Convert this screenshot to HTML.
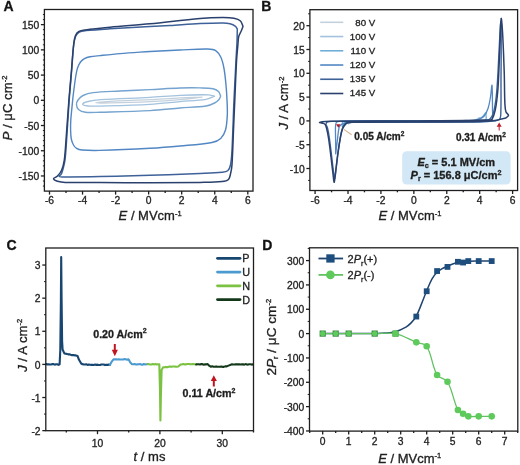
<!DOCTYPE html>
<html><head><meta charset="utf-8"><title>Figure</title>
<style>html,body{margin:0;padding:0;background:#fff;}svg{display:block;}text{font-family:'Liberation Sans', Arial, sans-serif;stroke:#222;stroke-width:.32px;}</style>
</head><body>
<svg width="520" height="465" viewBox="0 0 520 465">
<rect width="520" height="465" fill="#fff"/>
<g>
<path d="M202,97.2 C194.67,97.4 187.33,97.45 180,97.8 C169.99,98.28 160.01,99.19 150,99.7 C136.67,100.39 123.32,100.64 110,101.4 C105.12,101.68 95.4,102.55 95.4,102.8 C95.4,103.05 105.14,103.01 110,102.9 C123.34,102.61 136.68,102.23 150,101.6 C160.01,101.13 170.02,100.44 180,99.6 C187.35,98.98 194.67,98 202,97.2" fill="none" stroke="#c4d1dd" stroke-width="1.3" stroke-linejoin="round" stroke-linecap="round" />
<path d="M214.6,96.1 C212.57,95.67 210.57,94.85 208.5,94.8 C199.04,94.58 189.49,94.88 180,95.3 C169.99,95.74 160.01,96.86 150,97.4 C133.61,98.29 117.17,98.52 100.8,99.6 C96.5,99.88 92.13,100.43 88,101.5 C86.06,102 82.6,103.52 82.6,104.3 C82.6,105.02 86.14,105.81 88,106 C91.94,106.41 96,106.2 100,106.1 C116.67,105.67 133.36,105.34 150,104.4 C160.02,103.84 170,102.51 180,101.6 C188.66,100.81 197.47,100.66 206,99.3 C209,98.82 211.73,97.17 214.6,96.1" fill="none" stroke="#a2c2de" stroke-width="1.3" stroke-linejoin="round" stroke-linecap="round" />
<path d="M220.7,96 C219.97,94.5 219.65,92.59 218.5,91.5 C217.08,90.16 214.98,89.09 213,88.7 C208.82,87.89 204.34,87.99 200,87.9 C193.34,87.76 186.66,87.77 180,88 C169.99,88.34 160,89.1 150,89.6 C140,90.1 130,90.47 120,91 C111,91.47 101.91,91.52 93,92.6 C89.57,93.02 86.04,94 83,95.5 C81.04,96.47 79.26,98.24 78,100 C77.09,101.27 76.42,103.09 76.5,104.6 C76.59,106.25 77.27,108.43 78.5,109.5 C80.23,111 82.98,112 85.4,112.3 C90.15,112.9 95.14,112.33 100,112.2 C116.67,111.76 133.35,111.47 150,110.6 C160.02,110.07 170,108.82 180,108 C188.66,107.29 197.45,107.24 206,106 C208.99,105.57 211.92,104.34 214.6,103 C216.25,102.17 217.8,100.88 219,99.5 C219.83,98.55 220.13,97.17 220.7,96" fill="none" stroke="#74a3cf" stroke-width="1.4" stroke-linejoin="round" stroke-linecap="round" />
<path d="M150,51.5 C160,51 170,50.43 180,50 C189.23,49.6 198.51,48.8 207.7,49 C210.51,49.06 213.77,49.37 216,50.8 C218.2,52.21 219.87,55 221,57.5 C222.54,60.9 223.32,64.77 224,68.5 C224.99,73.94 225.47,79.49 226,85 C226.47,89.99 226.78,94.99 227,100 C227.22,104.99 227.55,110.02 227.3,115 C227.05,120.02 226.84,125.25 225.5,130 C224.64,133.05 222.96,136.31 220.7,138.4 C218.46,140.48 215.12,141.92 212,142.5 C201.55,144.45 190.68,145 180,146 C170.02,146.93 160.01,147.75 150,148.3 C133.35,149.22 116.67,149.98 100,150.4 C94,150.55 87.94,150.51 82,150 C80.14,149.84 78.16,149.32 76.6,148.4 C75.33,147.65 74.24,146.31 73.5,145 C72.47,143.18 71.7,141.07 71.3,139 C70.73,136.07 70.68,133 70.6,130 C70.51,126.67 70.61,123.33 70.8,120 C71.01,116.33 71.45,112.67 71.8,109 C72.18,105 72.55,100.99 73,97 C73.45,92.99 73.97,89 74.5,85 C74.9,82 75.27,78.98 75.8,76 C76.27,73.32 76.64,70.56 77.5,68 C78.21,65.9 79.19,63.76 80.5,62 C81.52,60.62 82.99,59.42 84.5,58.6 C86.16,57.69 88.11,57.16 90,56.8 C93.28,56.16 96.66,55.96 100,55.6 C106.66,54.89 113.32,54.15 120,53.6 C129.99,52.78 140,52.2 150,51.5" fill="none" stroke="#5287c4" stroke-width="1.4" stroke-linejoin="round" stroke-linecap="round" />
<path d="M237.3,29 C236.7,28.1 236.35,26.91 235.5,26.3 C233.92,25.17 231.92,24.31 230,23.8 C227.76,23.21 225.34,23.02 223,23 C215.34,22.95 207.66,23.24 200,23.6 C189.99,24.07 180,24.9 170,25.5 C163.34,25.9 156.67,26.23 150,26.6 C136.67,27.33 123.33,27.97 110,28.8 C101.99,29.3 93.97,29.77 86,30.6 C83.73,30.84 81.19,30.96 79.3,32 C77.75,32.86 76.42,34.63 75.7,36.3 C74.55,38.96 74.05,42.05 73.7,45 C72.72,53.28 72.38,61.67 71.7,70 C70.88,80 69.93,89.99 69.2,100 C68.23,113.33 67.53,126.67 66.6,140 C66.13,146.67 65.82,153.38 65,160 C64.62,163.04 63.79,166.04 63,169 C62.53,170.77 62.06,172.63 61.2,174.2 C60.73,175.07 58.87,175.85 59,176.3 C59.13,176.75 60.98,176.89 62,176.9 C74.65,176.99 87.34,176.83 100,176.6 C116.67,176.3 133.34,175.83 150,175.3 C166.67,174.77 183.34,174.12 200,173.4 C207.34,173.08 214.72,172.91 222,172.2 C223.95,172.01 226.34,171.86 227.7,170.7 C229.17,169.46 230.08,167.05 230.5,165 C231.51,160.15 231.73,155.02 232,150 C232.9,133.35 233.26,116.66 234,100 C234.59,86.66 235.31,73.33 236,60 C236.31,54 236.75,48 237,42 C237.18,37.67 237.2,33.33 237.3,29" fill="none" stroke="#3d6198" stroke-width="1.5" stroke-linejoin="round" stroke-linecap="round" />
<path d="M243,26.5 C242.17,24.67 241.89,22.26 240.5,21 C238.89,19.53 236.27,18.75 234,18.3 C230.44,17.59 226.67,17.49 223,17.5 C215.34,17.52 207.64,17.75 200,18.4 C183.31,19.82 166.68,22.07 150,23.7 C136.68,25 123.32,25.92 110,27.2 C101.79,27.99 93.56,28.79 85.4,29.9 C83.23,30.19 80.81,30.37 79,31.4 C77.51,32.24 76.14,33.88 75.5,35.5 C74.34,38.41 73.97,41.8 73.6,45 C72.64,53.3 72.21,61.67 71.5,70 C70.65,80 69.69,89.99 68.9,100 C67.85,113.33 67.03,126.67 66,140 C65.47,146.87 65.2,153.81 64.2,160.6 C63.7,163.97 62.84,167.41 61.5,170.5 C60.61,172.55 59.05,174.39 57.5,176 C56.39,177.16 53.5,177.91 53.5,178.8 C53.5,179.65 56.04,180.75 57.5,181.2 C59.94,181.95 62.61,182.31 65.2,182.4 C76.77,182.78 88.4,182.55 100,182.6 C116.67,182.68 133.33,182.83 150,182.8 C166.67,182.77 183.34,182.68 200,182.4 C207.34,182.28 214.75,182.34 222,181.6 C224.25,181.37 227.05,180.93 228.5,179.5 C229.95,178.06 230.18,175.22 230.7,173 C231.35,170.25 231.82,167.42 232,164.6 C232.75,153.09 233,141.53 233.5,130 C233.93,120 234.36,110 234.8,100 C235.39,86.67 235.85,73.32 236.6,60 C236.88,54.99 237.45,50 237.9,45 C238.15,42.17 238.07,39.24 238.7,36.5 C239.11,34.74 240.28,33.18 241,31.5 C241.71,29.85 242.33,28.17 243,26.5" fill="none" stroke="#2a416e" stroke-width="1.5" stroke-linejoin="round" stroke-linecap="round" />
<rect x="44.4" y="9.5" width="208.6" height="181.6" fill="none" stroke="#1e1e1e" stroke-width="1.3"/>
<line x1="49.5" y1="191.1" x2="49.5" y2="194.6" stroke="#1e1e1e" stroke-width="1.3"/>
<line x1="82.55" y1="191.1" x2="82.55" y2="194.6" stroke="#1e1e1e" stroke-width="1.3"/>
<line x1="115.6" y1="191.1" x2="115.6" y2="194.6" stroke="#1e1e1e" stroke-width="1.3"/>
<line x1="148.65" y1="191.1" x2="148.65" y2="194.6" stroke="#1e1e1e" stroke-width="1.3"/>
<line x1="181.7" y1="191.1" x2="181.7" y2="194.6" stroke="#1e1e1e" stroke-width="1.3"/>
<line x1="214.75" y1="191.1" x2="214.75" y2="194.6" stroke="#1e1e1e" stroke-width="1.3"/>
<line x1="247.8" y1="191.1" x2="247.8" y2="194.6" stroke="#1e1e1e" stroke-width="1.3"/>
<line x1="66.03" y1="191.1" x2="66.03" y2="192.9" stroke="#1e1e1e" stroke-width="1.3"/>
<line x1="99.08" y1="191.1" x2="99.08" y2="192.9" stroke="#1e1e1e" stroke-width="1.3"/>
<line x1="132.12" y1="191.1" x2="132.12" y2="192.9" stroke="#1e1e1e" stroke-width="1.3"/>
<line x1="165.18" y1="191.1" x2="165.18" y2="192.9" stroke="#1e1e1e" stroke-width="1.3"/>
<line x1="198.22" y1="191.1" x2="198.22" y2="192.9" stroke="#1e1e1e" stroke-width="1.3"/>
<line x1="231.28" y1="191.1" x2="231.28" y2="192.9" stroke="#1e1e1e" stroke-width="1.3"/>
<line x1="40.9" y1="175.96" x2="44.4" y2="175.96" stroke="#1e1e1e" stroke-width="1.3"/>
<line x1="40.9" y1="150.74" x2="44.4" y2="150.74" stroke="#1e1e1e" stroke-width="1.3"/>
<line x1="40.9" y1="125.52" x2="44.4" y2="125.52" stroke="#1e1e1e" stroke-width="1.3"/>
<line x1="40.9" y1="100.3" x2="44.4" y2="100.3" stroke="#1e1e1e" stroke-width="1.3"/>
<line x1="40.9" y1="75.08" x2="44.4" y2="75.08" stroke="#1e1e1e" stroke-width="1.3"/>
<line x1="40.9" y1="49.86" x2="44.4" y2="49.86" stroke="#1e1e1e" stroke-width="1.3"/>
<line x1="40.9" y1="24.64" x2="44.4" y2="24.64" stroke="#1e1e1e" stroke-width="1.3"/>
<line x1="42.9" y1="186.05" x2="44.4" y2="186.05" stroke="#1e1e1e" stroke-width="1"/>
<line x1="42.9" y1="181" x2="44.4" y2="181" stroke="#1e1e1e" stroke-width="1"/>
<line x1="42.9" y1="170.92" x2="44.4" y2="170.92" stroke="#1e1e1e" stroke-width="1"/>
<line x1="42.9" y1="165.87" x2="44.4" y2="165.87" stroke="#1e1e1e" stroke-width="1"/>
<line x1="42.9" y1="160.83" x2="44.4" y2="160.83" stroke="#1e1e1e" stroke-width="1"/>
<line x1="42.9" y1="155.78" x2="44.4" y2="155.78" stroke="#1e1e1e" stroke-width="1"/>
<line x1="42.9" y1="145.7" x2="44.4" y2="145.7" stroke="#1e1e1e" stroke-width="1"/>
<line x1="42.9" y1="140.65" x2="44.4" y2="140.65" stroke="#1e1e1e" stroke-width="1"/>
<line x1="42.9" y1="135.61" x2="44.4" y2="135.61" stroke="#1e1e1e" stroke-width="1"/>
<line x1="42.9" y1="130.56" x2="44.4" y2="130.56" stroke="#1e1e1e" stroke-width="1"/>
<line x1="42.9" y1="120.48" x2="44.4" y2="120.48" stroke="#1e1e1e" stroke-width="1"/>
<line x1="42.9" y1="115.43" x2="44.4" y2="115.43" stroke="#1e1e1e" stroke-width="1"/>
<line x1="42.9" y1="110.39" x2="44.4" y2="110.39" stroke="#1e1e1e" stroke-width="1"/>
<line x1="42.9" y1="105.34" x2="44.4" y2="105.34" stroke="#1e1e1e" stroke-width="1"/>
<line x1="42.9" y1="95.26" x2="44.4" y2="95.26" stroke="#1e1e1e" stroke-width="1"/>
<line x1="42.9" y1="90.21" x2="44.4" y2="90.21" stroke="#1e1e1e" stroke-width="1"/>
<line x1="42.9" y1="85.17" x2="44.4" y2="85.17" stroke="#1e1e1e" stroke-width="1"/>
<line x1="42.9" y1="80.12" x2="44.4" y2="80.12" stroke="#1e1e1e" stroke-width="1"/>
<line x1="42.9" y1="70.04" x2="44.4" y2="70.04" stroke="#1e1e1e" stroke-width="1"/>
<line x1="42.9" y1="64.99" x2="44.4" y2="64.99" stroke="#1e1e1e" stroke-width="1"/>
<line x1="42.9" y1="59.95" x2="44.4" y2="59.95" stroke="#1e1e1e" stroke-width="1"/>
<line x1="42.9" y1="54.9" x2="44.4" y2="54.9" stroke="#1e1e1e" stroke-width="1"/>
<line x1="42.9" y1="44.82" x2="44.4" y2="44.82" stroke="#1e1e1e" stroke-width="1"/>
<line x1="42.9" y1="39.77" x2="44.4" y2="39.77" stroke="#1e1e1e" stroke-width="1"/>
<line x1="42.9" y1="34.73" x2="44.4" y2="34.73" stroke="#1e1e1e" stroke-width="1"/>
<line x1="42.9" y1="29.68" x2="44.4" y2="29.68" stroke="#1e1e1e" stroke-width="1"/>
<line x1="42.9" y1="19.6" x2="44.4" y2="19.6" stroke="#1e1e1e" stroke-width="1"/>
<line x1="42.9" y1="14.55" x2="44.4" y2="14.55" stroke="#1e1e1e" stroke-width="1"/>
<text x="49.5" y="203.8" font-size="10.3" text-anchor="middle" font-weight="normal" font-style="normal" fill="#1e1e1e" >-6</text>
<text x="82.55" y="203.8" font-size="10.3" text-anchor="middle" font-weight="normal" font-style="normal" fill="#1e1e1e" >-4</text>
<text x="115.6" y="203.8" font-size="10.3" text-anchor="middle" font-weight="normal" font-style="normal" fill="#1e1e1e" >-2</text>
<text x="148.65" y="203.8" font-size="10.3" text-anchor="middle" font-weight="normal" font-style="normal" fill="#1e1e1e" >0</text>
<text x="181.7" y="203.8" font-size="10.3" text-anchor="middle" font-weight="normal" font-style="normal" fill="#1e1e1e" >2</text>
<text x="214.75" y="203.8" font-size="10.3" text-anchor="middle" font-weight="normal" font-style="normal" fill="#1e1e1e" >4</text>
<text x="247.8" y="203.8" font-size="10.3" text-anchor="middle" font-weight="normal" font-style="normal" fill="#1e1e1e" >6</text>
<text x="39.2" y="180.06" font-size="10.3" text-anchor="end" font-weight="normal" font-style="normal" fill="#1e1e1e" >-150</text>
<text x="39.2" y="154.84" font-size="10.3" text-anchor="end" font-weight="normal" font-style="normal" fill="#1e1e1e" >-100</text>
<text x="39.2" y="129.62" font-size="10.3" text-anchor="end" font-weight="normal" font-style="normal" fill="#1e1e1e" >-50</text>
<text x="39.2" y="104.4" font-size="10.3" text-anchor="end" font-weight="normal" font-style="normal" fill="#1e1e1e" >0</text>
<text x="39.2" y="79.18" font-size="10.3" text-anchor="end" font-weight="normal" font-style="normal" fill="#1e1e1e" >50</text>
<text x="39.2" y="53.96" font-size="10.3" text-anchor="end" font-weight="normal" font-style="normal" fill="#1e1e1e" >100</text>
<text x="39.2" y="28.74" font-size="10.3" text-anchor="end" font-weight="normal" font-style="normal" fill="#1e1e1e" >150</text>
<text x="3.6" y="11.3" font-size="14" text-anchor="start" font-weight="bold" font-style="normal" fill="#111" >A</text>
<text x="118.6" y="220.3" font-size="13" fill="#1e1e1e"><tspan font-style="italic">E</tspan> / MVcm<tspan font-size="7.5" dy="-4.5">-1</tspan></text>
<text transform="translate(11.8,140.5) rotate(-90)" font-size="13.2" fill="#1e1e1e"><tspan font-style="italic">P</tspan> / μC cm<tspan font-size="7.5" dy="-4.5">-2</tspan></text>
</g>
<g>
<path d="M361.9,122.4 C361.9,122.1 361.65,121.57 361.9,121.5 C363.02,121.17 364.63,121.21 366,121.2 C384,121.05 402,121.07 420,121 C434,120.94 448.02,121.07 462,120.8 C463.52,120.77 465.22,120.04 466.5,120.1 C466.75,120.11 466.84,120.92 466.6,121 C465.34,121.42 463.54,121.57 462,121.6 C448.01,121.87 434,121.83 420,121.9 C402,121.99 384,121.95 366,122.1 C364.63,122.11 363.27,122.3 361.9,122.4" fill="none" stroke="#c4d1dd" stroke-width="1.3" stroke-linejoin="round" stroke-linecap="round" />
<path d="M348.8,123.8 C348.83,123.07 348.46,121.96 348.9,121.6 C349.53,121.09 350.96,121.21 352,121.2 C374.66,121.01 397.33,121.1 420,121 C436.67,120.93 453.35,121.03 470,120.7 C472.02,120.66 474.12,120.51 476,119.9 C477.32,119.47 478.81,117.54 479.6,117.6 C480.08,117.64 480.09,119.5 479.8,120.2 C479.55,120.8 478.71,121.39 478,121.5 C475.44,121.89 472.67,121.68 470,121.7 C453.33,121.81 436.67,121.84 420,121.9 C398.67,121.97 377.33,121.91 356,122.1 C354.33,122.11 352.59,122.12 351,122.5 C350.19,122.69 349.53,123.37 348.8,123.8" fill="none" stroke="#a2c2de" stroke-width="1.3" stroke-linejoin="round" stroke-linecap="round" />
<path d="M342.3,126.5 C342.27,125.4 341.96,124.21 342.2,123.2 C342.36,122.54 342.86,121.67 343.5,121.5 C345.46,120.97 347.83,121.12 350,121.1 C373.33,120.92 396.67,121 420,120.9 C437.33,120.83 454.69,120.99 472,120.6 C474.02,120.55 476.13,120.28 478,119.6 C479.63,119.01 481.21,117.97 482.5,116.8 C483.81,115.6 485.05,112.78 485.8,112.5 C486.22,112.35 485.97,114.5 486,115.5 C486.04,116.8 486.52,118.38 486,119.4 C485.52,120.34 484.16,121.23 483,121.4 C478.82,122 474.33,121.67 470,121.7 C453.33,121.83 436.67,121.83 420,121.9 C398.33,121.99 376.67,122.02 355,122.2 C352.33,122.22 349.62,122.17 347,122.5 C345.95,122.63 344.76,122.95 344,123.6 C343.2,124.28 342.87,125.53 342.3,126.5" fill="none" stroke="#6eaed8" stroke-width="1.3" stroke-linejoin="round" stroke-linecap="round" />
<path d="M335.7,153.8 C335.67,149.2 335.62,144.6 335.6,140 C335.58,135 335.22,129.92 335.6,125 C335.69,123.85 336.05,122.18 337,121.8 C339.18,120.92 342.33,121.23 345,121.2 C369.99,120.93 395,121.02 420,120.9 C438,120.82 456.05,121.06 474,120.6 C475.52,120.56 477.02,120.01 478.4,119.4 C480.35,118.54 482.64,117.75 484,116.2 C485.84,114.12 487.08,111.22 488,108.5 C489.25,104.82 489.85,100.86 490.5,97 C491.15,93.1 491.52,86.26 491.9,85.2 C492.12,84.59 492.25,89.73 492.3,92 C492.45,98 492.48,104 492.5,110 C492.51,113.07 493.02,116.4 492.4,119.2 C492.19,120.17 491.03,121.19 490,121.3 C483.56,122.02 476.67,121.64 470,121.7 C453.33,121.84 436.67,121.83 420,121.9 C397.33,122 374.66,121.93 352,122.2 C349.66,122.23 347.25,122.31 345,122.8 C343.75,123.07 342.53,123.75 341.5,124.5 C340.6,125.15 339.48,125.94 339.2,127 C338.11,131.1 337.97,135.66 337.4,140 C336.8,144.6 336.27,149.2 335.7,153.8" fill="none" stroke="#5287c4" stroke-width="1.3" stroke-linejoin="round" stroke-linecap="round" />
<path d="M325.9,124.5 C326.27,123.73 326.32,122.55 327,122.2 C328.35,121.51 330.31,121.42 332,121.4 C361.31,120.99 390.67,121.13 420,120.9 C442,120.73 464.06,120.83 486,120.2 C487.4,120.16 489.09,119.84 490,118.9 C491.59,117.27 492.86,114.82 493.5,112.5 C494.96,107.18 495.68,101.54 496.3,96 C497.18,88.04 497.53,80.01 498,72 C498.59,62.01 498.99,52 499.5,42 C499.79,36.33 500,30.66 500.4,25 C500.47,23.99 500.86,21.28 500.9,22 C501.13,26.28 501.19,34 501.2,40 C501.22,53.33 501.09,66.67 501,80 C500.92,91.93 501.3,103.97 500.7,115.8 C500.63,117.17 500.12,119.04 499,119.6 C496.55,120.84 493.04,121.11 490,121.2 C466.71,121.88 443.33,121.73 420,121.9 C397.33,122.06 374.65,121.83 352,122.2 C349.98,122.23 347.68,122.24 346,123.1 C344.68,123.77 343.65,125.39 343,126.8 C341.98,129.02 341.47,131.56 341,134 C339.97,139.29 339.25,144.66 338.5,150 C337.59,156.49 336.87,163 336,169.5 C335.6,172.5 335.17,178.23 334.7,178.5 C334.31,178.73 333.74,173.51 333.4,171 C332.68,165.68 332.16,160.33 331.5,155 C330.76,149 330.09,142.98 329.2,137 C328.75,133.98 328.27,130.93 327.5,128 C327.17,126.77 326.43,125.67 325.9,124.5" fill="none" stroke="#3d6198" stroke-width="1.4" stroke-linejoin="round" stroke-linecap="round" />
<path d="M319.5,122.6 C320.33,122.33 321.14,121.91 322,121.8 C324.64,121.47 327.33,121.32 330,121.3 C360,121.02 390,121.13 420,120.9 C443,120.73 466.04,120.64 489,120.1 C490.04,120.08 491.5,120.02 492,119.2 C493.6,116.59 494.63,113.04 495.3,109.8 C496.53,103.87 497.15,97.76 497.7,91.7 C498.35,84.49 498.57,77.24 498.9,70 C499.43,58.34 499.78,46.66 500.3,35 C500.55,29.46 500.79,19.38 501.2,18.4 C501.49,17.71 502.15,26.12 502.4,30 C502.95,38.32 503.25,46.66 503.6,55 C503.88,61.66 504.12,68.33 504.3,75 C504.56,84.67 504.46,94.35 504.9,104 C505.02,106.69 505.2,109.52 506,112 C506.4,113.25 508.5,114.18 508.5,115.2 C508.5,116.11 507,117.2 506,117.8 C505,118.4 503.68,118.5 502.5,118.8 C500.01,119.43 497.54,120.29 495,120.6 C490.04,121.19 485.01,121.41 480,121.5 C460.01,121.87 440,121.87 420,122 C397.33,122.14 374.65,121.99 352,122.3 C350.32,122.32 348.47,122.37 347,123 C345.97,123.44 345.2,124.57 344.5,125.5 C343.7,126.57 342.95,127.75 342.5,129 C341.65,131.35 341.08,133.83 340.6,136.3 C339.58,141.5 338.74,146.75 338,152 C337.07,158.65 336.44,165.34 335.6,172 C335.17,175.44 334.68,181.93 334.2,182.3 C333.81,182.6 333.35,176.77 333,174 C332.28,168.34 331.71,162.66 331,157 C330.21,150.66 329.48,144.31 328.5,138 C327.98,134.64 327.34,131.28 326.5,128 C326.17,126.72 325.79,125.25 325,124.3 C324.46,123.65 323.36,123.47 322.5,123.2 C321.53,122.9 320.5,122.8 319.5,122.6" fill="none" stroke="#2a416e" stroke-width="1.5" stroke-linejoin="round" stroke-linecap="round" />
<rect x="309.9" y="9.7" width="207.7" height="180.8" fill="none" stroke="#1e1e1e" stroke-width="1.3"/>
<line x1="315.09" y1="190.5" x2="315.09" y2="194" stroke="#1e1e1e" stroke-width="1.3"/>
<line x1="348.01" y1="190.5" x2="348.01" y2="194" stroke="#1e1e1e" stroke-width="1.3"/>
<line x1="380.93" y1="190.5" x2="380.93" y2="194" stroke="#1e1e1e" stroke-width="1.3"/>
<line x1="413.85" y1="190.5" x2="413.85" y2="194" stroke="#1e1e1e" stroke-width="1.3"/>
<line x1="446.77" y1="190.5" x2="446.77" y2="194" stroke="#1e1e1e" stroke-width="1.3"/>
<line x1="479.69" y1="190.5" x2="479.69" y2="194" stroke="#1e1e1e" stroke-width="1.3"/>
<line x1="512.61" y1="190.5" x2="512.61" y2="194" stroke="#1e1e1e" stroke-width="1.3"/>
<line x1="331.55" y1="190.5" x2="331.55" y2="192.3" stroke="#1e1e1e" stroke-width="1.3"/>
<line x1="364.47" y1="190.5" x2="364.47" y2="192.3" stroke="#1e1e1e" stroke-width="1.3"/>
<line x1="397.39" y1="190.5" x2="397.39" y2="192.3" stroke="#1e1e1e" stroke-width="1.3"/>
<line x1="430.31" y1="190.5" x2="430.31" y2="192.3" stroke="#1e1e1e" stroke-width="1.3"/>
<line x1="463.23" y1="190.5" x2="463.23" y2="192.3" stroke="#1e1e1e" stroke-width="1.3"/>
<line x1="496.15" y1="190.5" x2="496.15" y2="192.3" stroke="#1e1e1e" stroke-width="1.3"/>
<line x1="306.4" y1="168.5" x2="309.9" y2="168.5" stroke="#1e1e1e" stroke-width="1.3"/>
<line x1="306.4" y1="144.7" x2="309.9" y2="144.7" stroke="#1e1e1e" stroke-width="1.3"/>
<line x1="306.4" y1="120.9" x2="309.9" y2="120.9" stroke="#1e1e1e" stroke-width="1.3"/>
<line x1="306.4" y1="97.1" x2="309.9" y2="97.1" stroke="#1e1e1e" stroke-width="1.3"/>
<line x1="306.4" y1="73.3" x2="309.9" y2="73.3" stroke="#1e1e1e" stroke-width="1.3"/>
<line x1="306.4" y1="49.5" x2="309.9" y2="49.5" stroke="#1e1e1e" stroke-width="1.3"/>
<line x1="306.4" y1="25.7" x2="309.9" y2="25.7" stroke="#1e1e1e" stroke-width="1.3"/>
<line x1="308.1" y1="180.4" x2="309.9" y2="180.4" stroke="#1e1e1e" stroke-width="1"/>
<line x1="308.1" y1="156.6" x2="309.9" y2="156.6" stroke="#1e1e1e" stroke-width="1"/>
<line x1="308.1" y1="132.8" x2="309.9" y2="132.8" stroke="#1e1e1e" stroke-width="1"/>
<line x1="308.1" y1="109" x2="309.9" y2="109" stroke="#1e1e1e" stroke-width="1"/>
<line x1="308.1" y1="85.2" x2="309.9" y2="85.2" stroke="#1e1e1e" stroke-width="1"/>
<line x1="308.1" y1="61.4" x2="309.9" y2="61.4" stroke="#1e1e1e" stroke-width="1"/>
<line x1="308.1" y1="37.6" x2="309.9" y2="37.6" stroke="#1e1e1e" stroke-width="1"/>
<line x1="308.1" y1="13.8" x2="309.9" y2="13.8" stroke="#1e1e1e" stroke-width="1"/>
<text x="315.09" y="203.8" font-size="10.3" text-anchor="middle" font-weight="normal" font-style="normal" fill="#1e1e1e" >-6</text>
<text x="348.01" y="203.8" font-size="10.3" text-anchor="middle" font-weight="normal" font-style="normal" fill="#1e1e1e" >-4</text>
<text x="380.93" y="203.8" font-size="10.3" text-anchor="middle" font-weight="normal" font-style="normal" fill="#1e1e1e" >-2</text>
<text x="413.85" y="203.8" font-size="10.3" text-anchor="middle" font-weight="normal" font-style="normal" fill="#1e1e1e" >0</text>
<text x="446.77" y="203.8" font-size="10.3" text-anchor="middle" font-weight="normal" font-style="normal" fill="#1e1e1e" >2</text>
<text x="479.69" y="203.8" font-size="10.3" text-anchor="middle" font-weight="normal" font-style="normal" fill="#1e1e1e" >4</text>
<text x="512.61" y="203.8" font-size="10.3" text-anchor="middle" font-weight="normal" font-style="normal" fill="#1e1e1e" >6</text>
<text x="304.7" y="172.6" font-size="10.3" text-anchor="end" font-weight="normal" font-style="normal" fill="#1e1e1e" >-10</text>
<text x="304.7" y="148.8" font-size="10.3" text-anchor="end" font-weight="normal" font-style="normal" fill="#1e1e1e" >-5</text>
<text x="304.7" y="125" font-size="10.3" text-anchor="end" font-weight="normal" font-style="normal" fill="#1e1e1e" >0</text>
<text x="304.7" y="101.2" font-size="10.3" text-anchor="end" font-weight="normal" font-style="normal" fill="#1e1e1e" >5</text>
<text x="304.7" y="77.4" font-size="10.3" text-anchor="end" font-weight="normal" font-style="normal" fill="#1e1e1e" >10</text>
<text x="304.7" y="53.6" font-size="10.3" text-anchor="end" font-weight="normal" font-style="normal" fill="#1e1e1e" >15</text>
<text x="304.7" y="29.8" font-size="10.3" text-anchor="end" font-weight="normal" font-style="normal" fill="#1e1e1e" >20</text>
<text x="261.2" y="11.3" font-size="14" text-anchor="start" font-weight="bold" font-style="normal" fill="#111" >B</text>
<text x="378.5" y="220.3" font-size="13" fill="#1e1e1e"><tspan font-style="italic">E</tspan> / MVcm<tspan font-size="7.5" dy="-4.5">-1</tspan></text>
<text transform="translate(288.4,129.5) rotate(-90)" font-size="13.2" fill="#1e1e1e"><tspan font-style="italic">J</tspan> / A cm<tspan font-size="7.5" dy="-4.5">-2</tspan></text>
<line x1="320.2" y1="22.3" x2="343.3" y2="22.3" stroke="#c4d1dd" stroke-width="1.6"/>
<text x="375.2" y="26.3" font-size="9.7" text-anchor="end" font-weight="normal" font-style="normal" fill="#1e1e1e" >80 V</text>
<line x1="320.2" y1="36.54" x2="343.3" y2="36.54" stroke="#a2c2de" stroke-width="1.6"/>
<text x="375.2" y="40.3" font-size="9.7" text-anchor="end" font-weight="normal" font-style="normal" fill="#1e1e1e" >100 V</text>
<line x1="320.2" y1="50.78" x2="343.3" y2="50.78" stroke="#6eaed8" stroke-width="1.6"/>
<text x="375.2" y="54.3" font-size="9.7" text-anchor="end" font-weight="normal" font-style="normal" fill="#1e1e1e" >110 V</text>
<line x1="320.2" y1="65.02" x2="343.3" y2="65.02" stroke="#5287c4" stroke-width="1.6"/>
<text x="375.2" y="68.3" font-size="9.7" text-anchor="end" font-weight="normal" font-style="normal" fill="#1e1e1e" >120 V</text>
<line x1="320.2" y1="79.26" x2="343.3" y2="79.26" stroke="#3d6198" stroke-width="1.6"/>
<text x="375.2" y="82.3" font-size="9.7" text-anchor="end" font-weight="normal" font-style="normal" fill="#1e1e1e" >135 V</text>
<line x1="320.2" y1="93.5" x2="343.3" y2="93.5" stroke="#2a416e" stroke-width="1.6"/>
<text x="375.2" y="96.3" font-size="9.7" text-anchor="end" font-weight="normal" font-style="normal" fill="#1e1e1e" >145 V</text>
<line x1="343.9" y1="129.4" x2="351.6" y2="134.8" stroke="#d8b591" stroke-width="1.1"/>
<path d="M336,124.3 L340.6,124.3 L338.3,127.8Z" fill="#b51628"/>
<text x="354.3" y="140.1" font-size="10" text-anchor="start" font-weight="bold" font-style="normal" fill="#1e1e1e" >0.05 A/cm<tspan font-size="6.5" dy="-4">2</tspan></text>
<line x1="499.2" y1="126" x2="499.2" y2="130.6" stroke="#c8404a" stroke-width="1.2"/>
<path d="M496.7,126.7 L501.7,126.7 L499.2,122.6Z" fill="#c0202c"/>
<text x="455.9" y="140.6" font-size="10" text-anchor="start" font-weight="bold" font-style="normal" fill="#1e1e1e" >0.31 A/cm<tspan font-size="6.5" dy="-4">2</tspan></text>
<rect x="402.2" y="151.3" width="108.4" height="33.2" rx="4.5" fill="#d2e8f6"/>
<text x="456.3" y="166.1" font-size="11" font-weight="bold" text-anchor="middle" fill="#1e1e1e"><tspan font-style="italic">E</tspan><tspan font-size="7.2" dy="2.2">c</tspan><tspan dy="-2.2"> = 5.1 MV/cm</tspan></text>
<text x="456" y="179" font-size="11" font-weight="bold" text-anchor="middle" fill="#1e1e1e"><tspan font-style="italic">P</tspan><tspan font-size="7.2" dy="2.2">r</tspan><tspan dy="-2.2"> = 156.8 μC/cm</tspan><tspan font-size="7.2" dy="-4.2">2</tspan></text>
</g>
<g>
<path d="M46.3,364.12 L47.51,364.35 L48.72,364.25 L49.93,364.43 L51.14,364.46 L52.35,364.09 L53.55,364.07 L54.76,364.66 L55.97,364.28 L57.18,364.28 L58.39,364.83 L59.6,364.5 L60.3,350 L60.9,300 L61.2,257 L61.6,300 L62.1,341 L62.6,349.5 L64.2,353.18 L65.5,353.79 L66.8,353.88 L68.1,354.35 L69.4,354.36 L70.68,354.83 L71.96,355.14 L73.24,355.04 L74.52,355.33 L75.8,355.42 L77.6,356.1 L79,359.8 L81.2,363.49 L82.47,364.25 L83.73,364.4 L85,364.46 L86.25,364.28 L87.5,364.87 L88.75,364.61 L90,364.79 L91.25,364.91 L92.5,364.8 L93.75,364.95 L95,364.59 L96.25,364.89 L97.5,364.64 L98.75,365 L100,364.97 L101.25,364.43 L102.5,364.47 L103.75,364.54 L105,365.08 L106.25,364.72 L107.5,364.86 L108.75,364.65 L110,364.8" fill="none" stroke="#174670" stroke-width="2.1" stroke-linejoin="round" stroke-linecap="round" />
<path d="M110,364.81 L111.5,361.92 L113.5,359.3 L114.8,359.42 L116.1,359.38 L117.4,359.56 L118.7,359.37 L120,359.5 L121.21,359.46 L122.43,359.57 L123.64,359.36 L124.86,359.02 L126.07,359.52 L127.29,359.61 L128.5,359.3 L130.3,362.58 L132,364.15 L133.33,364.3 L134.67,364 L136,364.48 L137.33,364.35 L138.67,364.2 L140,364.09 L141.28,364.63 L142.57,364.71 L143.85,364.06 L145.13,364.54 L146.42,364.25 L147.7,364.3" fill="none" stroke="#4b9bd0" stroke-width="2.1" stroke-linejoin="round" stroke-linecap="round" />
<path d="M147.7,364.06 L148.99,364.16 L150.28,364.49 L151.57,364.56 L152.86,363.98 L154.14,364.38 L155.43,363.98 L156.72,364.45 L158.01,364.18 L159.3,364.3 L160,390 L160.4,420.5 L160.9,395 L161.6,370 L163.1,367.27 L164.48,367.3 L165.86,366.92 L167.24,367.23 L168.62,366.71 L170,366.5 L171.37,366.85 L172.73,366.44 L174.1,366.54 L175.47,366.67 L176.83,366.79 L178.2,366.46 L180.5,364.58 L182,364.36 L183.29,363.97 L184.58,364.42 L185.87,364.38 L187.16,364.01 L188.45,364.07 L189.75,364.11 L191.04,364.2 L192.33,364.17 L193.62,364.14 L194.91,364.18 L196.2,364.1" fill="none" stroke="#7cc242" stroke-width="2.1" stroke-linejoin="round" stroke-linecap="round" />
<path d="M196.2,364.51 L197.46,364.23 L198.71,364.2 L199.97,364.42 L201.22,364.11 L202.48,364.17 L203.73,364.67 L204.99,364.37 L206.24,364.41 L207.5,364.06 L209.5,365.94 L211,366.76 L212.28,366.36 L213.55,366.78 L214.82,366.79 L216.1,366.39 L217.38,366.79 L218.65,366.68 L219.93,366.83 L221.2,366.6 L222.48,366.84 L223.75,366.87 L225.03,366.37 L226.3,366.39 L228.5,365.62 L230.7,364.82 L231.94,364.32 L233.18,364.46 L234.42,364.55 L235.66,364.35 L236.89,364.38 L238.13,364.34 L239.37,364.37 L240.61,364.52 L241.85,364.31 L243.09,364.36 L244.33,364.63 L245.57,364.1 L246.81,364.48 L248.04,364.59 L249.28,364.28 L250.52,364.22 L251.76,364.62 L253,364.4" fill="none" stroke="#14391a" stroke-width="2.1" stroke-linejoin="round" stroke-linecap="round" />
<rect x="45.8" y="248" width="207.7" height="182.7" fill="none" stroke="#1e1e1e" stroke-width="1.3"/>
<line x1="97.5" y1="430.7" x2="97.5" y2="434.2" stroke="#1e1e1e" stroke-width="1.3"/>
<line x1="159.9" y1="430.7" x2="159.9" y2="434.2" stroke="#1e1e1e" stroke-width="1.3"/>
<line x1="222.3" y1="430.7" x2="222.3" y2="434.2" stroke="#1e1e1e" stroke-width="1.3"/>
<line x1="66.3" y1="430.7" x2="66.3" y2="432.5" stroke="#1e1e1e" stroke-width="1.3"/>
<line x1="128.7" y1="430.7" x2="128.7" y2="432.5" stroke="#1e1e1e" stroke-width="1.3"/>
<line x1="191.1" y1="430.7" x2="191.1" y2="432.5" stroke="#1e1e1e" stroke-width="1.3"/>
<line x1="253.5" y1="430.7" x2="253.5" y2="432.5" stroke="#1e1e1e" stroke-width="1.3"/>
<line x1="42.3" y1="430.64" x2="45.8" y2="430.64" stroke="#1e1e1e" stroke-width="1.3"/>
<line x1="42.3" y1="397.52" x2="45.8" y2="397.52" stroke="#1e1e1e" stroke-width="1.3"/>
<line x1="42.3" y1="364.4" x2="45.8" y2="364.4" stroke="#1e1e1e" stroke-width="1.3"/>
<line x1="42.3" y1="331.28" x2="45.8" y2="331.28" stroke="#1e1e1e" stroke-width="1.3"/>
<line x1="42.3" y1="298.16" x2="45.8" y2="298.16" stroke="#1e1e1e" stroke-width="1.3"/>
<line x1="42.3" y1="265.04" x2="45.8" y2="265.04" stroke="#1e1e1e" stroke-width="1.3"/>
<line x1="44" y1="414.08" x2="45.8" y2="414.08" stroke="#1e1e1e" stroke-width="1"/>
<line x1="44" y1="380.96" x2="45.8" y2="380.96" stroke="#1e1e1e" stroke-width="1"/>
<line x1="44" y1="347.84" x2="45.8" y2="347.84" stroke="#1e1e1e" stroke-width="1"/>
<line x1="44" y1="314.72" x2="45.8" y2="314.72" stroke="#1e1e1e" stroke-width="1"/>
<line x1="44" y1="281.6" x2="45.8" y2="281.6" stroke="#1e1e1e" stroke-width="1"/>
<text x="97.5" y="446.7" font-size="10.3" text-anchor="middle" font-weight="normal" font-style="normal" fill="#1e1e1e" >10</text>
<text x="159.9" y="446.7" font-size="10.3" text-anchor="middle" font-weight="normal" font-style="normal" fill="#1e1e1e" >20</text>
<text x="222.3" y="446.7" font-size="10.3" text-anchor="middle" font-weight="normal" font-style="normal" fill="#1e1e1e" >30</text>
<text x="40.6" y="434.74" font-size="10.3" text-anchor="end" font-weight="normal" font-style="normal" fill="#1e1e1e" >-2</text>
<text x="40.6" y="401.62" font-size="10.3" text-anchor="end" font-weight="normal" font-style="normal" fill="#1e1e1e" >-1</text>
<text x="40.6" y="368.5" font-size="10.3" text-anchor="end" font-weight="normal" font-style="normal" fill="#1e1e1e" >0</text>
<text x="40.6" y="335.38" font-size="10.3" text-anchor="end" font-weight="normal" font-style="normal" fill="#1e1e1e" >1</text>
<text x="40.6" y="302.26" font-size="10.3" text-anchor="end" font-weight="normal" font-style="normal" fill="#1e1e1e" >2</text>
<text x="40.6" y="269.14" font-size="10.3" text-anchor="end" font-weight="normal" font-style="normal" fill="#1e1e1e" >3</text>
<text x="6.6" y="250.3" font-size="14" text-anchor="start" font-weight="bold" font-style="normal" fill="#111" >C</text>
<text x="133.6" y="461.3" font-size="13" fill="#1e1e1e"><tspan font-style="italic">t</tspan> / ms</text>
<text transform="translate(26.6,371.7) rotate(-90)" font-size="13.2" fill="#1e1e1e"><tspan font-style="italic">J</tspan> / A cm<tspan font-size="7.5" dy="-4.5">-2</tspan></text>
<line x1="217.5" y1="258.3" x2="240" y2="258.3" stroke="#174670" stroke-width="2.8" stroke-linecap="round"/>
<text x="242.2" y="262.3" font-size="10.8" text-anchor="start" font-weight="normal" font-style="normal" fill="#1e1e1e" >P</text>
<line x1="217.5" y1="272.05" x2="240" y2="272.05" stroke="#4b9bd0" stroke-width="2.8" stroke-linecap="round"/>
<text x="242.2" y="276.05" font-size="10.8" text-anchor="start" font-weight="normal" font-style="normal" fill="#1e1e1e" >U</text>
<line x1="217.5" y1="285.8" x2="240" y2="285.8" stroke="#7cc242" stroke-width="2.8" stroke-linecap="round"/>
<text x="242.2" y="289.8" font-size="10.8" text-anchor="start" font-weight="normal" font-style="normal" fill="#1e1e1e" >N</text>
<line x1="217.5" y1="299.55" x2="240" y2="299.55" stroke="#14391a" stroke-width="2.8" stroke-linecap="round"/>
<text x="242.2" y="303.55" font-size="10.8" text-anchor="start" font-weight="normal" font-style="normal" fill="#1e1e1e" >D</text>
<line x1="114.8" y1="344" x2="114.8" y2="351" stroke="#c0141e" stroke-width="2"/>
<path d="M111.8,349.8 L117.9,349.8 L114.8,356.2Z" fill="#c0141e"/>
<text x="93.2" y="337.6" font-size="10.7" text-anchor="start" font-weight="bold" font-style="normal" fill="#1e1e1e" >0.20 A/cm<tspan font-size="7" dy="-4.3">2</tspan></text>
<line x1="213.8" y1="380" x2="213.8" y2="386.5" stroke="#c0141e" stroke-width="2"/>
<path d="M210.8,380.9 L216.9,380.9 L213.8,375.2Z" fill="#c0141e"/>
<text x="182.6" y="396.9" font-size="10.7" text-anchor="start" font-weight="bold" font-style="normal" fill="#1e1e1e" >0.11 A/cm<tspan font-size="7" dy="-4.3">2</tspan></text>
</g>
<g>
<path d="M322.7,333.6 C335.7,333.6 348.7,333.62 361.7,333.6 C366.03,333.59 370.37,333.62 374.7,333.53 C378.17,333.45 381.65,333.42 385.1,333.11 C388.58,332.8 392.17,332.63 395.5,331.65 C399.11,330.6 402.62,328.87 405.9,327.03 C407.82,325.95 409.59,324.48 411.1,322.89 C413.05,320.83 414.94,318.56 416.3,316.08 C418.4,312.23 419.82,307.99 421.5,303.91 C423.29,299.55 424.88,295.11 426.7,290.76 C428.35,286.83 429.82,282.77 431.9,279.08 C433.29,276.6 435.11,274.27 437.1,272.26 C438.58,270.78 440.48,269.68 442.3,268.61 C443.95,267.65 445.75,266.96 447.5,266.18 C449.22,265.41 450.93,264.61 452.7,263.99 C454.4,263.39 456.13,262.83 457.9,262.53 C461.33,261.94 464.82,261.55 468.3,261.31 C471.76,261.07 475.23,261.1 478.7,261.07 C483.03,261.02 487.37,261.07 491.7,261.07" fill="none" stroke="#1f4470" stroke-width="1.5" stroke-linejoin="round" stroke-linecap="round" />
<path d="M322.7,333.6 C327.03,333.6 331.37,333.6 335.7,333.6 C340.03,333.6 344.37,333.6 348.7,333.6 C357.37,333.6 366.03,333.6 374.7,333.6 C381.63,333.6 388.85,332.2 395.5,333.6 C402.72,335.12 409.33,339.53 416.3,342.36 C419.73,343.75 424.85,343.36 426.7,346.26 C431.78,354.23 432.17,366.56 437.1,374.98 C439.11,378.4 445.47,378.38 447.5,381.79 C452.41,390.06 453.61,401.25 457.9,410.03 C458.81,411.88 461.29,412.58 463.1,413.68 C464.76,414.69 466.43,416.03 468.3,416.36 C471.63,416.93 475.23,416.36 478.7,416.36 C483.03,416.36 487.37,416.36 491.7,416.36" fill="none" stroke="#62c262" stroke-width="1.3" stroke-linejoin="round" stroke-linecap="round" />
<rect x="319.6" y="330.5" width="6.2" height="6.2" fill="#3a8a40"/>
<rect x="332.6" y="330.5" width="6.2" height="6.2" fill="#3a8a40"/>
<rect x="345.6" y="330.5" width="6.2" height="6.2" fill="#3a8a40"/>
<rect x="371.6" y="330.5" width="6.2" height="6.2" fill="#3a8a40"/>
<rect x="392.4" y="330.5" width="6.2" height="6.2" fill="#3a8a40"/>
<rect x="413.4" y="313.66" width="5.8" height="5.8" fill="#1d4e7e"/>
<rect x="423.8" y="288.35" width="5.8" height="5.8" fill="#1d4e7e"/>
<rect x="434.2" y="268.15" width="5.8" height="5.8" fill="#1d4e7e"/>
<rect x="444.6" y="264.01" width="5.8" height="5.8" fill="#1d4e7e"/>
<rect x="455" y="258.9" width="5.8" height="5.8" fill="#1d4e7e"/>
<rect x="460.2" y="259.63" width="5.8" height="5.8" fill="#1d4e7e"/>
<rect x="465.4" y="258.17" width="5.8" height="5.8" fill="#1d4e7e"/>
<rect x="475.8" y="258.17" width="5.8" height="5.8" fill="#1d4e7e"/>
<rect x="488.8" y="258.17" width="5.8" height="5.8" fill="#1d4e7e"/>
<circle cx="322.7" cy="333.6" r="2.7" fill="#5dca5b"/>
<circle cx="335.7" cy="333.6" r="2.7" fill="#5dca5b"/>
<circle cx="348.7" cy="333.6" r="2.7" fill="#5dca5b"/>
<circle cx="374.7" cy="333.6" r="2.7" fill="#5dca5b"/>
<circle cx="395.5" cy="333.6" r="3.3" fill="#5dca5b"/>
<circle cx="416.3" cy="342.36" r="3.3" fill="#5dca5b"/>
<circle cx="426.7" cy="346.26" r="3.3" fill="#5dca5b"/>
<circle cx="437.1" cy="374.98" r="3.3" fill="#5dca5b"/>
<circle cx="447.5" cy="381.79" r="3.3" fill="#5dca5b"/>
<circle cx="457.9" cy="410.03" r="3.3" fill="#5dca5b"/>
<circle cx="463.1" cy="413.68" r="3.3" fill="#5dca5b"/>
<circle cx="468.3" cy="416.36" r="3.3" fill="#5dca5b"/>
<circle cx="478.7" cy="416.36" r="3.3" fill="#5dca5b"/>
<circle cx="491.7" cy="416.36" r="3.3" fill="#5dca5b"/>
<rect x="309.5" y="247.8" width="208.3" height="183.3" fill="none" stroke="#1e1e1e" stroke-width="1.3"/>
<line x1="322.7" y1="431.1" x2="322.7" y2="434.6" stroke="#1e1e1e" stroke-width="1.3"/>
<line x1="348.7" y1="431.1" x2="348.7" y2="434.6" stroke="#1e1e1e" stroke-width="1.3"/>
<line x1="374.7" y1="431.1" x2="374.7" y2="434.6" stroke="#1e1e1e" stroke-width="1.3"/>
<line x1="400.7" y1="431.1" x2="400.7" y2="434.6" stroke="#1e1e1e" stroke-width="1.3"/>
<line x1="426.7" y1="431.1" x2="426.7" y2="434.6" stroke="#1e1e1e" stroke-width="1.3"/>
<line x1="452.7" y1="431.1" x2="452.7" y2="434.6" stroke="#1e1e1e" stroke-width="1.3"/>
<line x1="478.7" y1="431.1" x2="478.7" y2="434.6" stroke="#1e1e1e" stroke-width="1.3"/>
<line x1="504.7" y1="431.1" x2="504.7" y2="434.6" stroke="#1e1e1e" stroke-width="1.3"/>
<line x1="309.7" y1="431.1" x2="309.7" y2="432.9" stroke="#1e1e1e" stroke-width="1.3"/>
<line x1="335.7" y1="431.1" x2="335.7" y2="432.9" stroke="#1e1e1e" stroke-width="1.3"/>
<line x1="361.7" y1="431.1" x2="361.7" y2="432.9" stroke="#1e1e1e" stroke-width="1.3"/>
<line x1="387.7" y1="431.1" x2="387.7" y2="432.9" stroke="#1e1e1e" stroke-width="1.3"/>
<line x1="413.7" y1="431.1" x2="413.7" y2="432.9" stroke="#1e1e1e" stroke-width="1.3"/>
<line x1="439.7" y1="431.1" x2="439.7" y2="432.9" stroke="#1e1e1e" stroke-width="1.3"/>
<line x1="465.7" y1="431.1" x2="465.7" y2="432.9" stroke="#1e1e1e" stroke-width="1.3"/>
<line x1="491.7" y1="431.1" x2="491.7" y2="432.9" stroke="#1e1e1e" stroke-width="1.3"/>
<line x1="517.7" y1="431.1" x2="517.7" y2="432.9" stroke="#1e1e1e" stroke-width="1.3"/>
<line x1="306" y1="430.96" x2="309.5" y2="430.96" stroke="#1e1e1e" stroke-width="1.3"/>
<line x1="306" y1="406.62" x2="309.5" y2="406.62" stroke="#1e1e1e" stroke-width="1.3"/>
<line x1="306" y1="382.28" x2="309.5" y2="382.28" stroke="#1e1e1e" stroke-width="1.3"/>
<line x1="306" y1="357.94" x2="309.5" y2="357.94" stroke="#1e1e1e" stroke-width="1.3"/>
<line x1="306" y1="333.6" x2="309.5" y2="333.6" stroke="#1e1e1e" stroke-width="1.3"/>
<line x1="306" y1="309.26" x2="309.5" y2="309.26" stroke="#1e1e1e" stroke-width="1.3"/>
<line x1="306" y1="284.92" x2="309.5" y2="284.92" stroke="#1e1e1e" stroke-width="1.3"/>
<line x1="306" y1="260.58" x2="309.5" y2="260.58" stroke="#1e1e1e" stroke-width="1.3"/>
<line x1="307.7" y1="418.79" x2="309.5" y2="418.79" stroke="#1e1e1e" stroke-width="1"/>
<line x1="307.7" y1="394.45" x2="309.5" y2="394.45" stroke="#1e1e1e" stroke-width="1"/>
<line x1="307.7" y1="370.11" x2="309.5" y2="370.11" stroke="#1e1e1e" stroke-width="1"/>
<line x1="307.7" y1="345.77" x2="309.5" y2="345.77" stroke="#1e1e1e" stroke-width="1"/>
<line x1="307.7" y1="321.43" x2="309.5" y2="321.43" stroke="#1e1e1e" stroke-width="1"/>
<line x1="307.7" y1="297.09" x2="309.5" y2="297.09" stroke="#1e1e1e" stroke-width="1"/>
<line x1="307.7" y1="272.75" x2="309.5" y2="272.75" stroke="#1e1e1e" stroke-width="1"/>
<line x1="307.7" y1="248.41" x2="309.5" y2="248.41" stroke="#1e1e1e" stroke-width="1"/>
<text x="322.7" y="445.4" font-size="10.3" text-anchor="middle" font-weight="normal" font-style="normal" fill="#1e1e1e" >0</text>
<text x="348.7" y="445.4" font-size="10.3" text-anchor="middle" font-weight="normal" font-style="normal" fill="#1e1e1e" >1</text>
<text x="374.7" y="445.4" font-size="10.3" text-anchor="middle" font-weight="normal" font-style="normal" fill="#1e1e1e" >2</text>
<text x="400.7" y="445.4" font-size="10.3" text-anchor="middle" font-weight="normal" font-style="normal" fill="#1e1e1e" >3</text>
<text x="426.7" y="445.4" font-size="10.3" text-anchor="middle" font-weight="normal" font-style="normal" fill="#1e1e1e" >4</text>
<text x="452.7" y="445.4" font-size="10.3" text-anchor="middle" font-weight="normal" font-style="normal" fill="#1e1e1e" >5</text>
<text x="478.7" y="445.4" font-size="10.3" text-anchor="middle" font-weight="normal" font-style="normal" fill="#1e1e1e" >6</text>
<text x="504.7" y="445.4" font-size="10.3" text-anchor="middle" font-weight="normal" font-style="normal" fill="#1e1e1e" >7</text>
<text x="304.3" y="435.06" font-size="10.3" text-anchor="end" font-weight="normal" font-style="normal" fill="#1e1e1e" >-400</text>
<text x="304.3" y="410.72" font-size="10.3" text-anchor="end" font-weight="normal" font-style="normal" fill="#1e1e1e" >-300</text>
<text x="304.3" y="386.38" font-size="10.3" text-anchor="end" font-weight="normal" font-style="normal" fill="#1e1e1e" >-200</text>
<text x="304.3" y="362.04" font-size="10.3" text-anchor="end" font-weight="normal" font-style="normal" fill="#1e1e1e" >-100</text>
<text x="304.3" y="337.7" font-size="10.3" text-anchor="end" font-weight="normal" font-style="normal" fill="#1e1e1e" >0</text>
<text x="304.3" y="313.36" font-size="10.3" text-anchor="end" font-weight="normal" font-style="normal" fill="#1e1e1e" >100</text>
<text x="304.3" y="289.02" font-size="10.3" text-anchor="end" font-weight="normal" font-style="normal" fill="#1e1e1e" >200</text>
<text x="304.3" y="264.68" font-size="10.3" text-anchor="end" font-weight="normal" font-style="normal" fill="#1e1e1e" >300</text>
<text x="262.3" y="250.3" font-size="14" text-anchor="start" font-weight="bold" font-style="normal" fill="#111" >D</text>
<text x="378.2" y="462.9" font-size="13" fill="#1e1e1e"><tspan font-style="italic">E</tspan> / MVcm<tspan font-size="7.5" dy="-4.5">-1</tspan></text>
<text transform="translate(275.8,375.6) rotate(-90)" font-size="13.6" fill="#1e1e1e">2<tspan font-style="italic">P</tspan><tspan font-size="7.5" dy="2.5">r</tspan><tspan dy="-2.5">  / μC cm</tspan><tspan font-size="7.5" dy="-4.5">-2</tspan></text>
<line x1="318.5" y1="258.5" x2="343.1" y2="258.5" stroke="#1f4470" stroke-width="1.8"/>
<rect x="326.3" y="254.3" width="8.3" height="8.3" fill="#1d4e7e"/>
<line x1="318.5" y1="274.9" x2="343.1" y2="274.9" stroke="#62c262" stroke-width="1.8"/>
<circle cx="330.4" cy="274.9" r="4.3" fill="#5dca5b"/>
<text x="347.5" y="263.2" font-size="11" fill="#1e1e1e">2<tspan font-style="italic">P</tspan><tspan font-size="7.2" dy="2.4">r</tspan><tspan dy="-2.4">(+)</tspan></text>
<text x="347.5" y="279.4" font-size="11" fill="#1e1e1e">2<tspan font-style="italic">P</tspan><tspan font-size="7.2" dy="2.4">r</tspan><tspan dy="-2.4">(-)</tspan></text>
</g>
</svg>
</body></html>
